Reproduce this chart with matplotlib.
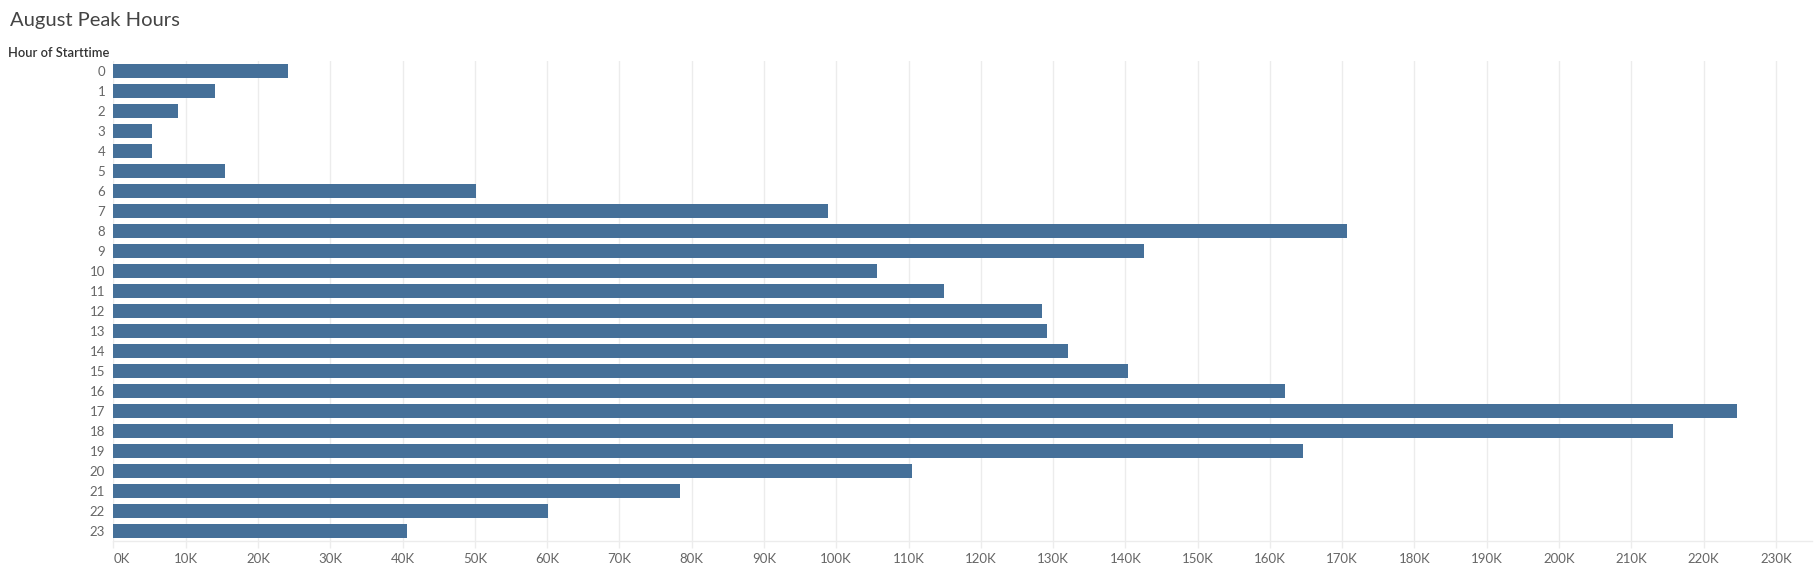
import numpy as np
import matplotlib.pyplot as plt
from matplotlib.ticker import FuncFormatter

# ── Data ──────────────────────────────────────────────────────────────────────
hours = list(range(24))
rides = [24.1, 14.1, 9.0, 5.4, 5.3, 15.4, 50.2, 98.9, 170.6, 142.6, 105.6, 114.9,
         128.5, 129.1, 132.1, 140.3, 162.1, 224.6, 215.8, 164.6, 110.5, 78.4, 60.1, 40.6]
rides = [r * 1000 for r in rides]
x_ticks = list(range(0, 230001, 10000))

bar_color = '#457099'
grid_color = '#ececec'
text_color = '#666666'

plt.rcParams['font.family'] = ['Lato', 'DejaVu Sans']

fig = plt.figure(figsize=(18.18, 5.76), dpi=100)
ax = fig.add_axes([0.0624, 0.0608, 0.9343, 0.8333])

ax.barh(hours, rides, height=0.73, color=bar_color, zorder=3)

ax.set_ylim(23.5, -0.5)
ax.set_xlim(0, 235000)
ax.set_yticks(hours)
ax.set_yticklabels([str(h) for h in hours])
ax.set_xticks(x_ticks)
ax.xaxis.set_major_formatter(FuncFormatter(lambda v, p: f'{int(v / 1000)}K'))

ax.tick_params(axis='y', length=0, pad=6, labelsize=9.5, labelcolor=text_color)
ax.tick_params(axis='x', length=5, width=1, color=grid_color, pad=4,
               labelsize=9.5, labelcolor=text_color)
ax.get_xticklabels()[0].set_horizontalalignment('left')

ax.grid(axis='x', color=grid_color, linewidth=1, zorder=0)
ax.grid(axis='y', visible=False)
for side in ['top', 'right', 'left']:
    ax.spines[side].set_visible(False)
ax.spines['bottom'].set_color(grid_color)
ax.spines['bottom'].set_linewidth(1)

# ── Titles ────────────────────────────────────────────────────────────────────
fig.text(10 / 1818, 1 - 26 / 576, 'August Peak Hours', fontsize=14.5,
         fontweight='normal', color='#444444', ha='left', va='baseline')
fig.text(8 / 1818, 1 - 53 / 576, 'Hour of Starttime', fontsize=9.3,
         fontweight='semibold', color='#333333', ha='left', va='center')

fig.savefig('out.png', dpi=100)
